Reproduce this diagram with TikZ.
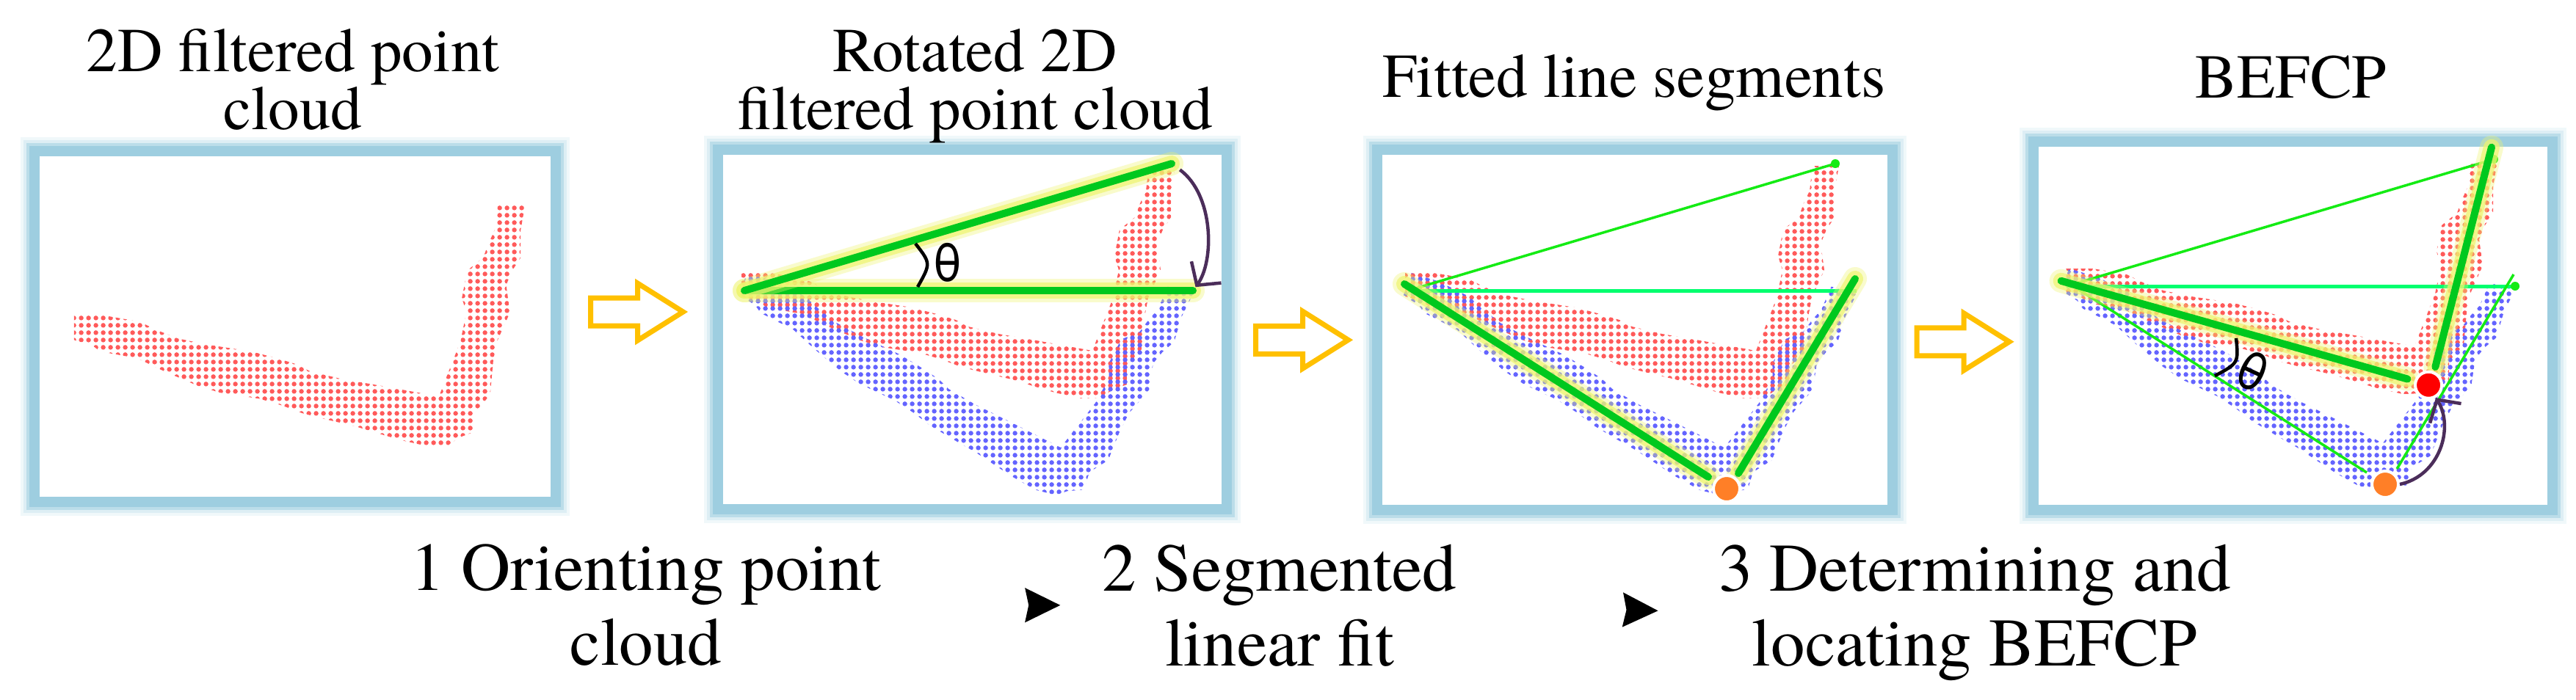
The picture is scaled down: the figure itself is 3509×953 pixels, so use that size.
\documentclass[tikz,border=0pt]{standalone}
\usepackage{fontspec}
\setmainfont{TeX Gyre Termes}
\newfontfamily\capfont{TeX Gyre Termes}
\newfontfamily\thetafont{TeX Gyre Heros}
\usetikzlibrary{shapes,arrows,arrows.meta,fit,positioning,calc,patterns,decorations.markings}

\definecolor{frameblue}{RGB}{158,206,224}
\definecolor{ptred}{RGB}{255,90,90}
\definecolor{ptblue}{RGB}{100,100,255}
\definecolor{fitgreen}{RGB}{0,200,30}
\definecolor{thingreen}{RGB}{20,235,20}
\definecolor{horgreen}{RGB}{0,255,110}
\definecolor{glowyellow}{RGB}{238,245,110}
\definecolor{arrowgold}{RGB}{255,192,0}
\definecolor{turnpurple}{RGB}{75,45,90}
\definecolor{dotorange}{RGB}{255,127,39}

% grid of cloud points
\pgfdeclarepatternformonly{cloudpts}{\pgfpointorigin}{\pgfqpoint{2.73pt}{2.73pt}}{\pgfqpoint{2.73pt}{2.73pt}}{%
  \pgfpathcircle{\pgfqpoint{1.365pt}{1.365pt}}{0.95pt}\pgfusepath{fill}}

\tikzset{
  panelbox/.style={draw=frameblue, fill=white, line width=0.14cm, inner sep=0,
    preaction={draw=frameblue!15, line width=0.38cm},
    preaction={draw=frameblue!35, line width=0.30cm},
    preaction={draw=frameblue!70, line width=0.21cm}},
  paneltitle/.style={align=center, inner sep=0, anchor=north,
    font=\capfont\fontsize{24.2pt}{22.5pt}\selectfont},
  steplabel/.style={align=center, inner sep=0, anchor=north,
    font=\capfont\fontsize{26.4pt}{29pt}\selectfont},
  blockarrow/.pic={
    \draw[draw=arrowgold, fill=white, line width=0.07cm, miter limit=4]
      (-63,-19) -- (1,-19) -- (1,-39) -- (63,0) -- (1,39) -- (1,19) -- (-63,19) -- cycle;},
  redcloud/.style={pattern=cloudpts, pattern color=ptred},
  bluecloud/.style={pattern=cloudpts, pattern color=ptblue},
  cloudoutline/.style={insert path={(-4,-24) -- (36,-24) -- (82,-16) -- (102,-6) -- (132,6)
    -- (170,14) -- (228,23) -- (262,32) -- (288,40) -- (305,49) -- (346,59) -- (398,68)
    -- (474,82) -- (484,56) -- (492,36) -- (502,10) -- (510,-28) -- (504,-47) -- (511,-83)
    -- (532,-100) -- (539,-119) -- (547,-136) -- (551,-170) -- (587,-170) -- (581,-136)
    -- (581,-100) -- (570,-83) -- (562,-64) -- (567,-28) -- (550,10) -- (545,36) -- (541,80)
    -- (521,103) -- (521,128) -- (500,136) -- (486,146) -- (458,147) -- (423,139) -- (393,130)
    -- (364,121) -- (330,113) -- (295,104) -- (269,94) -- (239,85) -- (187,77) -- (158,68)
    -- (114,49) -- (79,32) -- (30,23) -- (20,15) -- (-4,8) -- cycle}},
  fitline/.style={draw=fitgreen, line width=0.1cm, line cap=round,
    preaction={draw=glowyellow, draw opacity=0.35, line width=0.32cm, line cap=round},
    preaction={draw=glowyellow, draw opacity=0.7, line width=0.22cm, line cap=round}},
  thinline/.style={draw=thingreen, line width=0.035cm},
  horline/.style={draw=horgreen, line width=0.05cm},
  endpt/.style={circle, fill=thingreen, inner sep=0, minimum size=0.12cm},
  cornerpt/.style={circle, draw=white, line width=0.04cm, inner sep=0, minimum size=0.36cm},
  turnarrow/.style={draw=turnpurple, line width=0.045cm,
    -{Straight Barb[length=0.22cm,width=0.5cm,line width=0.045cm]}},
  anglemark/.style={draw=black, line width=0.045cm},
  thetalabel/.style={inner sep=0, font=\thetafont\fontsize{20pt}{20pt}\selectfont},
  steptip/.style={decoration={markings, mark=at position #1 with
    {\arrow{Stealth[length=0.48cm,width=0.47cm,inset=0.05cm]}}}, postaction={decorate}}
}

\begin{document}
\begin{tikzpicture}[x=0.01cm, y=-0.01cm]
\useasboundingbox (0,0) rectangle (3509,953);

% panels
\node[panelbox, minimum width=7.10cm, minimum height=4.78cm] (box1) at (402,445) {};
\node[panelbox, minimum width=6.93cm, minimum height=4.90cm] (box2) at (1324.5,449) {};
\node[panelbox, minimum width=7.02cm, minimum height=4.91cm] (box3) at (2227,449.5) {};
\node[panelbox, minimum width=7.07cm, minimum height=5.02cm] (box4) at (3123.5,444) {};

% titles
\node[paneltitle] (t1) at (399,39) {2D filtered point\\cloud};
\node[paneltitle] (t2) at (1328,39) {Rotated 2D\\filtered point cloud};
\node[paneltitle] (t3) at (2226,74) {Fitted line segments};
\node[paneltitle] (t4) at (3121,75) {BEFCP};

% block arrows
\pic (a12) at ($(box1.east)!.5!(box2.west)+(0,-22)$) {blockarrow};
\pic (a23) at ($(box2.east)!.5!(box3.west)+(0,14)$) {blockarrow};
\pic (a34) at ($(box3.east)!.5!(box4.west)+(0,19)$) {blockarrow};

% step captions
\node[steplabel] (l1) at (880,741) {1 Orienting point\\cloud};
\node[steplabel] (l2) at (1743,741) {2 Segmented\\linear fit};
\node[steplabel] (l3) at (2690,741) {3 Determining and\\locating BEFCP};
\path[steptip=0.81] (l1.east) -- (l2.west);
\path[steptip=0.77] (l2.east) -- (l3.west);

% panel 1
\begin{scope}[shift={(105,455)}, scale=1.04]
  \path[redcloud, cloudoutline];
\end{scope}

% panel 2
\coordinate (v2) at (1014,396);
\begin{scope}[shift={(v2)}]
  \path[redcloud, cloudoutline];
  \begin{scope}[rotate=-16.6]
    \path[bluecloud, cloudoutline];
  \end{scope}
  \coordinate (h2) at (611,0);
  \coordinate (s2) at (582,-173);
  \draw[fitline] (v2) -- (h2);
  \draw[fitline] (v2) -- (s2);
  \draw[anglemark] (233,-64) .. controls (254,-37) .. (236,-5);
  \node[thetalabel] (th2) at (277,-38) {θ};
  \draw[turnarrow, shorten <=0.14cm, shorten >=0.06cm] (s2) .. controls +(58,43) and +(29,-40) .. (h2);
\end{scope}

% panel 3
\coordinate (v3) at (1918,396);
\begin{scope}[shift={(v3)}]
  \path[redcloud, cloudoutline];
  \begin{scope}[rotate=-16.6]
    \path[bluecloud, cloudoutline];
  \end{scope}
  \coordinate (h3) at (611,0);
  \coordinate (s3) at (582,-173);
  \coordinate (a3) at (-5,-9);
  \coordinate (b3) at (409,254);
  \coordinate (c3) at (450,249);
  \coordinate (d3) at (609,-16);
  \draw[thinline] (v3) -- (s3);
  \node[endpt] (e3) at (s3) {};
  \draw[horline] (v3) -- (h3);
  \draw[fitline] (a3) -- (b3);
  \draw[fitline] (c3) -- (d3);
  \node[cornerpt, fill=dotorange] (o3) at (434,270) {};
\end{scope}

% panel 4
\coordinate (v4) at (2815,390);
\begin{scope}[shift={(v4)}]
  \path[redcloud, cloudoutline];
  \begin{scope}[rotate=-16.6]
    \path[bluecloud, cloudoutline];
  \end{scope}
  \coordinate (h4) at (611,0);
  \coordinate (s4) at (582,-173);
  \coordinate (a4) at (-5,-9);
  \coordinate (b4) at (409,254);
  \coordinate (c4) at (450,249);
  \coordinate (d4) at (609,-16);
  \draw[thinline] (v4) -- (s4);
  \node[endpt] (e4) at (s4) {};
  \draw[horline] (v4) -- (h4);
  \node[endpt] (f4) at (h4) {};
  \draw[thinline] (a4) -- (b4);
  \draw[thinline] (c4) -- (d4);
  \begin{scope}[rotate=16.6]
    \coordinate (ra4) at (-5,-9);
    \coordinate (rb4) at (409,254);
    \coordinate (rc4) at (450,249);
    \coordinate (rd4) at (609,-16);
    \draw[fitline] (ra4) -- (rb4);
    \draw[fitline] (rc4) -- (rd4);
    \node[cornerpt, fill=red] (r4) at (434,270) {};
  \end{scope}
  \node[cornerpt, fill=dotorange] (o4) at (434,270) {};
  \begin{scope}[rotate=-32.4]
    \draw[anglemark] (233,-64) .. controls (254,-37) .. (236,-5);
    \node[thetalabel, rotate=-25] (th4) at (277,-38) {θ};
  \end{scope}
  \draw[turnarrow] (o4.east) .. controls +(55,-12) and +(25,40) .. (r4.-60);
\end{scope}

\end{tikzpicture}
\end{document}
